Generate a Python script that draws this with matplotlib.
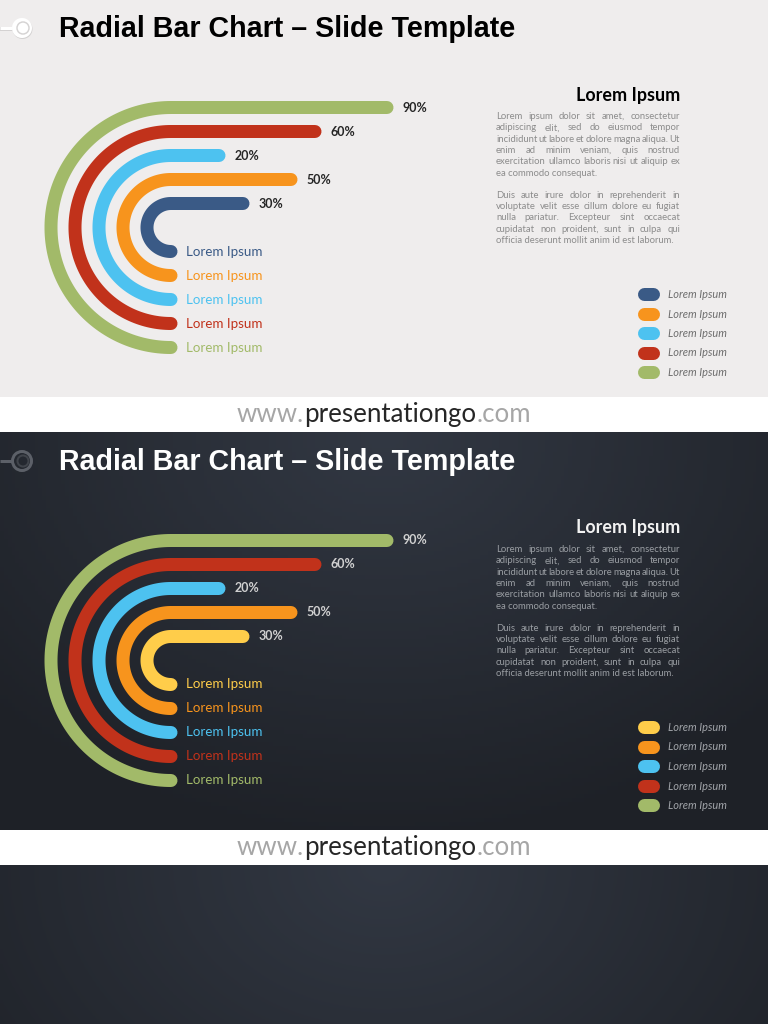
import numpy as np
import matplotlib
matplotlib.use('Agg')
import matplotlib.pyplot as plt
from matplotlib.patches import Rectangle, Circle

# 数据
categories = ['Lorem Ipsum'] * 5
values = [30, 50, 20, 60, 90]          # 内圈 -> 外圈
value_labels = ['30%', '50%', '20%', '60%', '90%']
colors_light = ['#3A5A86', '#F7941D', '#4DC2F0', '#C1321B', '#A2BA69']
colors_dark = ['#FFCD4A', '#F7941D', '#4DC2F0', '#C1321B', '#A2BA69']

title = 'Radial Bar Chart – Slide Template'
side_title = 'Lorem Ipsum'
para1 = ['Lorem ipsum dolor sit amet, consectetur',
         'adipiscing elit, sed do eiusmod tempor',
         'incididunt ut labore et dolore magna aliqua. Ut',
         'enim ad minim veniam, quis nostrud',
         'exercitation ullamco laboris nisi ut aliquip ex',
         'ea commodo consequat.']
para2 = ['Duis aute irure dolor in reprehenderit in',
         'voluptate velit esse cillum dolore eu fugiat',
         'nulla pariatur. Excepteur sint occaecat',
         'cupidatat non proident, sunt in culpa qui',
         'officia deserunt mollit anim id est laborum.']

W, H = 768, 1024
fig = plt.figure(figsize=(W / 100, H / 100), dpi=100)
ax = fig.add_axes([0, 0, 1, 1])
ax.set_xlim(0, W)
ax.set_ylim(H, 0)
ax.axis('off')
renderer = fig.canvas.get_renderer()

PX = 72 / 100  # 像素 -> 磅


def radial_bg(y_top, y_bot, cy):
    xs = np.linspace(0, W, 200)
    ys = np.linspace(y_top, y_bot, 100)
    X, Y = np.meshgrid(xs, ys)
    d = np.sqrt(((X - W / 2) / 1.0) ** 2 + ((Y - cy) * 1.3) ** 2)
    t = np.clip(d / 540, 0, 1)
    c0 = np.array([0x32, 0x38, 0x43]) / 255
    c1 = np.array([0x1E, 0x21, 0x27]) / 255
    img = c0[None, None, :] * (1 - t[..., None]) + c1[None, None, :] * t[..., None]
    ax.imshow(img, extent=[0, W, y_bot, y_top], aspect='auto', zorder=0)


def text_w(t):
    return t.get_window_extent(renderer).width


def justified(lines, x0, x1, y, step, color, size):
    for i, line in enumerate(lines):
        words = line.split(' ')
        if i == len(lines) - 1:
            ax.text(x0, y, line, fontsize=size, color=color, family='Lato',
                    va='center', ha='left', zorder=3)
        else:
            objs = [ax.text(0, y, w_, fontsize=size, color=color, family='Lato',
                            va='center', ha='left', zorder=3) for w_ in words]
            widths = [text_w(o) for o in objs]
            gap = (x1 - x0 - sum(widths)) / (len(words) - 1)
            x = x0
            for o, wd in zip(objs, widths):
                o.set_x(x)
                x += wd + gap
        y += step
    return y


def draw_slide(y0, dark):
    cols = colors_dark if dark else colors_light
    title_c = '#FFFFFF' if dark else '#000000'
    pct_c = '#D0D0D0' if dark else '#262626'
    para_c = '#9A9EA3' if dark else '#8C8C8C'
    head_c = '#F2F2F2' if dark else '#000000'
    leg_c = '#A0A3A8' if dark else '#6E6E6E'

    # 标题图标
    if dark:
        ax.plot([0, 13], [y0 + 28, y0 + 28], color='#5C6068', lw=3 * PX,
                solid_capstyle='butt', zorder=2)
        ax.add_patch(Circle((22, y0 + 28), 9.5, fc='none', ec='#5C6068', lw=3 * PX, zorder=2))
        ax.add_patch(Circle((23, y0 + 28), 5.5, fc='none', ec='#40444B', lw=2 * PX, zorder=2))
    else:
        ax.plot([0, 13], [y0 + 29, y0 + 29], color='#D4D2D2', lw=4 * PX,
                solid_capstyle='butt', zorder=2)
        ax.plot([0, 13], [y0 + 28, y0 + 28], color='white', lw=3 * PX,
                solid_capstyle='butt', zorder=2)
        ax.add_patch(Circle((22.5, y0 + 29), 10, fc='#D3D1D1', ec='none', zorder=2))
        ax.add_patch(Circle((22, y0 + 28), 10, fc='white', ec='none', zorder=2))
        ax.add_patch(Circle((23, y0 + 28), 6, fc='white', ec='#D6D4D4', lw=1.5 * PX, zorder=2))
    ax.text(59, y0 + 29, title, fontsize=20.6, fontweight='bold', color=title_c,
            family='Liberation Sans', va='center', ha='left', zorder=3)

    # 径向条形
    cx, cy = 171, y0 + 227.5
    r0, dr, scale = 24, 24, 2.4
    theta = np.linspace(np.pi / 2, 3 * np.pi / 2, 120)
    for i, (v, lab, cat) in enumerate(zip(values, value_labels, categories)):
        r = r0 + dr * i
        xs = np.concatenate([cx + r * np.cos(theta), [cx + v * scale]])
        ys = np.concatenate([cy + r * np.sin(theta), [cy - r]])
        ax.plot(xs, ys, color=cols[i], lw=13 * PX, solid_capstyle='round',
                solid_joinstyle='round', zorder=2)
        ax.text(cx + v * scale + 15.5, cy - r, lab, fontsize=9, fontweight='bold',
                color=pct_c, family='Lato', va='center', ha='left', zorder=3)
        ax.text(186, cy + r, cat, fontsize=9.6, color=cols[i], family='Lato',
                va='center', ha='left', zorder=3)

    # 右侧文字
    ax.text(680, y0 + 95, side_title, fontsize=12.9, fontweight='bold', color=head_c,
            family='Lato', va='center', ha='right', zorder=3)
    y = justified(para1, 496, 680, y0 + 116.5, 11.35, para_c, 6.8)
    justified(para2, 496, 680, y + 10.5, 11.35, para_c, 6.8)

    # 图例
    for i, cat in enumerate(categories):
        yy = y0 + 294 + i * 19.5
        ax.plot([644, 653], [yy, yy], color=cols[i], lw=13 * PX,
                solid_capstyle='round', zorder=2)
        ax.text(668, yy + 0.5, cat, fontsize=7.9, style='italic', color=leg_c,
                family='Lato', va='center', ha='left', zorder=3)


def footer(y_top, y_bot):
    ax.add_patch(Rectangle((0, y_top), W, y_bot - y_top, fc='white', ec='none', zorder=1))
    yc = (y_top + y_bot) / 2
    parts = [('www.', '#A6A6A6'), ('presentationgo', '#262626'), ('.com', '#A6A6A6')]
    objs = [ax.text(0, yc, p, fontsize=18.6, color=c, family='Lato',
                    va='center', ha='left', zorder=3) for p, c in parts]
    widths = [text_w(o) for o in objs]
    x = W / 2 - sum(widths) / 2
    for o, wd in zip(objs, widths):
        o.set_x(x)
        x += wd


# 背景
ax.add_patch(Rectangle((0, 0), W, 397, fc='#EFEDED', ec='none', zorder=0))
radial_bg(432, 830, 432)
radial_bg(865, 1024, 865)
footer(397, 432)
footer(830, 865)

draw_slide(0, dark=False)
draw_slide(433, dark=True)

fig.savefig('out.png', dpi=100)
